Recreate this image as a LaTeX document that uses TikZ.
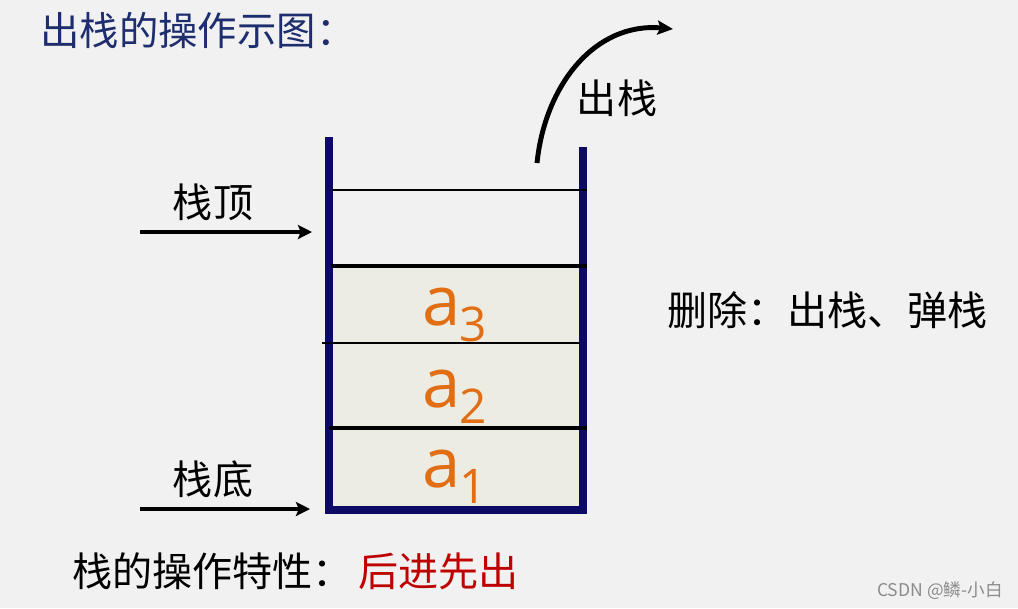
\documentclass[tikz,border=0pt]{standalone}
\usepackage{fontspec}
\setmainfont{Noto Sans CJK SC}
\newfontfamily\latinfont{Open Sans}
\usetikzlibrary{positioning,arrows.meta}
\definecolor{pagebg}{RGB}{241,241,241}
\definecolor{wallblue}{RGB}{12,10,100}
\definecolor{titleblue}{RGB}{30,45,110}
\definecolor{cellfill}{RGB}{236,236,226}
\definecolor{elemorange}{RGB}{226,110,20}
\definecolor{lifored}{RGB}{190,0,0}
\newcommand\elm[1]{{\latinfont\fontsize{49}{50}\selectfont a\kern-1pt\raisebox{-12pt}{\fontsize{34}{34}\selectfont #1}}}

\begin{document}
\begin{tikzpicture}[x=.025cm,y=-.025cm,line width=2pt,
  txt/.style={inner sep=0pt,font=\fontsize{28.5}{30}\selectfont},
  wall/.style={draw=wallblue,line width=5.5pt,line join=miter},
  ptr/.style={line width=2.8pt,-{Stealth[length=10pt,width=10pt,inset=2pt]}},
  elem/.style={inner sep=0pt,anchor=base,text=elemorange}]
\fill[pagebg] (0,0) rectangle (1018,608);\useasboundingbox (0,0) rectangle (1018,608);
\node[txt,anchor=west,text=titleblue,font=\fontsize{28}{30}\selectfont] (title) at (39,30) {出栈的操作示图：};
% stack
\fill[cellfill] (330,266) rectangle (580,508);
\draw[wall] (329,137)--(329,510)--(583,510)--(583,147);
\draw (332,190)--(587,190);\draw[line width=2.8pt] (331,266)--(587,266);
\draw (322,343)--(580,343);\draw[line width=3.4pt] (329,428)--(587,428);
\node[elem] (a3) at (455,325) {\elm{3}};\node[elem] (a2) at (455,407) {\elm{2}};
\node[elem] (a1) at (455,487) {\elm{1}};
% pointers
\node[txt] (top) at (213,202) {栈顶};\node[txt] (bottom) at (213,479) {栈底};
\coordinate (topS) at (140,232);\coordinate (topE) at (312,232);
\coordinate (botS) at (140,509);\coordinate (botE) at (310,509);
\draw[ptr] (topS)--(topE);\draw[ptr] (botS)--(botE);
% pop
\coordinate (popS) at (537,163);\coordinate (popE) at (673,29);
\draw[line width=3.5pt,-{Stealth[length=11pt,width=10pt,inset=2pt]}] (popS) .. controls (545,85) and (595,22) .. (popE);
\node[txt] (pop) at (617,98) {出栈};
\node[txt,anchor=west] (del) at (666,310) {删除：出栈、弹栈};
\node[txt,anchor=west] (prop) at (71,571) {栈的操作特性：};
\node[txt,anchor=west,text=lifored] (lifo) at ([xshift=2pt]prop.east) {后进先出};
\node[inner sep=0pt,anchor=east,text=black!45,font=\fontsize{12.5}{13}\selectfont] (mark) at (1004,591) {CSDN @鳞-小白};
\end{tikzpicture}
\end{document}
